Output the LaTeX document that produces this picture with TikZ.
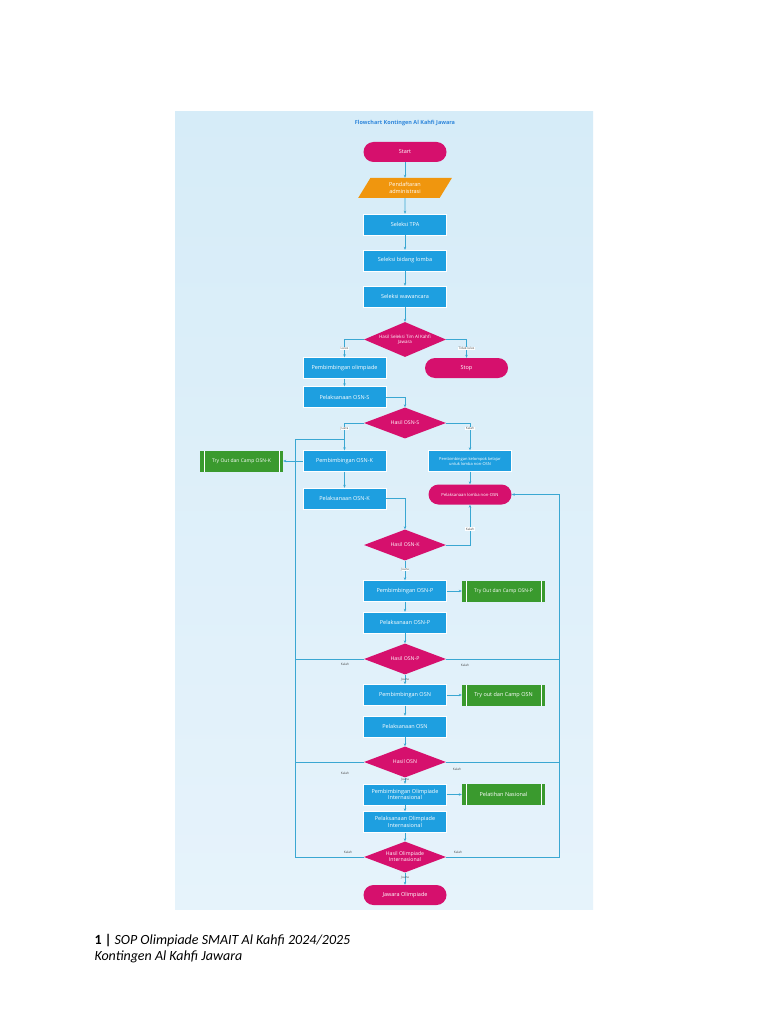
\documentclass[tikz,border=0pt]{standalone}
\usepackage{fontspec}
\setmainfont{Open Sans}
\newfontfamily\footfont{Carlito}
\usetikzlibrary{shapes.geometric,arrows.meta}
\definecolor{bx}{HTML}{1E9FE0}
\definecolor{mg}{HTML}{D6106D}
\definecolor{og}{HTML}{F0960E}
\definecolor{gn}{HTML}{3A9A2E}
\definecolor{ln}{HTML}{3AA7D2}
\definecolor{bgA}{HTML}{D6ECF8}
\definecolor{bgB}{HTML}{E6F3FB}
\tikzset{
 proc/.style={fill=bx,draw=white,line width=0.4pt,minimum width=83pt,minimum height=21pt,text=white,font=\fontsize{5.5}{6.5}\selectfont,align=center,inner sep=1pt},
 term/.style={fill=mg,rounded corners=10pt,minimum width=83pt,minimum height=20pt,text=white,font=\fontsize{5.5}{6.5}\selectfont,align=center},
 dec/.style={diamond,fill=mg,aspect=2.7,minimum width=82pt,minimum height=31pt,inner sep=0pt,text=white,font=\fontsize{5.2}{6}\selectfont,align=center},
 grn/.style={fill=gn,minimum width=83pt,minimum height=21pt,text=white,font=\fontsize{5}{6}\selectfont,align=center,
   path picture={\draw[white,line width=0.5pt] ([xshift=4pt]path picture bounding box.south west)--([xshift=4pt]path picture bounding box.north west)
   ([xshift=-4pt]path picture bounding box.south east)--([xshift=-4pt]path picture bounding box.north east);}},
 io/.style={trapezium,trapezium left angle=65,trapezium right angle=115,trapezium stretches=true,fill=og,minimum width=94pt,minimum height=20pt,text=white,font=\fontsize{5.5}{6.5}\selectfont,align=center,inner sep=1pt},
 con/.style={draw=ln,line width=0.6pt,-{Stealth[length=3pt,width=2.5pt]}},
 lin/.style={draw=ln,line width=0.6pt},
 lab/.style={fill=white,inner sep=0.5pt,font=\fontsize{3.2}{4}\selectfont,text=black!70},
 labn/.style={inner sep=0.5pt,font=\fontsize{3.2}{4}\selectfont,text=black!70}
}
\begin{document}
\begin{tikzpicture}[x=1pt,y=-1pt]
\useasboundingbox (0,0) rectangle (768,1024);
\fill[white] (0,0) rectangle (768,1024);
\shade[top color=bgA,bottom color=bgB] (175,112) rectangle (593,909);
\node[font=\bfseries\fontsize{5.5}{6}\selectfont,text=ln!80!blue] (title) at (405,123) {Flowchart Kontingen Al Kahfi Jawara};
\node[term] (start) at (405,152) {Start};
\node[io] (daftar) at (405,188) {Pendaftaran\\administrasi};
\node[proc] (tpa) at (405,224.5) {Seleksi TPA};
\node[proc] (bid) at (405,260.5) {Seleksi bidang lomba};
\node[proc] (waw) at (405,296.5) {Seleksi wawancara};
\node[dec,minimum height=35pt,font=\fontsize{4.5}{5.5}\selectfont] (d1) at (405,339.5) {Hasil Seleksi Tim Al Kahfi\\Jawara};
\node[proc] (pol) at (344.5,368) {Pembimbingan olimpiade};
\node[term] (stop) at (466.5,368) {Stop};
\node[proc] (ossn) at (344.5,397) {Pelaksanaan OSN-S};
\node[dec] (d2) at (405,423) {Hasil OSN-S};
\node[proc] (pk) at (344.5,461) {Pembimbingan OSN-K};
\node[grn] (gk) at (241.5,461) {Try Out dan Camp OSN-K};
\node[proc,font=\fontsize{4}{5}\selectfont] (kel) at (470,461) {Pembimbingan kelompok belajar\\untuk lomba non-OSN};
\node[term,font=\fontsize{4.2}{5}\selectfont] (non) at (470,494.5) {Pelaksanaan lomba non-OSN};
\node[proc] (lk) at (344.5,498.5) {Pelaksanaan OSN-K};
\node[dec] (d3) at (405,545) {Hasil OSN-K};
\node[proc] (pp) at (405,591) {Pembimbingan OSN-P};
\node[grn] (gp) at (503.5,591) {Try Out dan Camp OSN-P};
\node[proc] (lp) at (405,622.5) {Pelaksanaan OSN-P};
\node[dec] (d4) at (405,659) {Hasil OSN-P};
\node[proc] (pn) at (405,695) {Pembimbingan OSN};
\node[grn,font=\fontsize{5.5}{6.5}\selectfont] (gn) at (503.5,695) {Try out dan Camp OSN};
\node[proc] (ln) at (405,726.5) {Pelaksanaan OSN};
\node[dec] (d5) at (405,762) {Hasil OSN};
\node[proc] (pi) at (405,794.5) {Pembimbingan Olimpiade\\Internasional};
\node[grn,font=\fontsize{5.5}{6.5}\selectfont] (gi) at (503.5,794.5) {Pelatihan Nasional};
\node[proc] (li) at (405,822) {Pelaksanaan Olimpiade\\Internasional};
\node[dec] (d6) at (405,857) {Hasil Olimpiade\\Internasional};
\node[term] (jaw) at (405,895) {Jawara Olimpiade};
% connectors
\draw[con] (start)--(daftar);
\draw[con] (daftar)--(tpa);
\draw[con] (tpa)--(bid);
\draw[con] (bid)--(waw);
\draw[con] (waw)--(d1);
\draw[con] (d1.west) -| node[lab,pos=0.75]{Lulus} (pol.north);
\draw[con] (d1.east) -| node[lab,pos=0.75]{Tidak lulus} (stop.north);
\draw[con] (pol)--(ossn);
\draw[con] (ossn.east) -| (d2.north);
\draw[con] (d2.west) -| node[lab,pos=0.6]{Juara} (pk.north);
\draw[con] (d2.east) -| node[lab,pos=0.6]{Kalah} (kel.north);
\draw[con] (pk.west)--(gk.east);
\draw[con] (kel)--(non);
\draw[con] (pk)--(lk);
\draw[con] (lk.east) -| (d3.north);
\draw[con] (d3.east) -| node[lab,pos=0.7]{Kalah} (non.south);
\draw[con] (d3.south) -- node[lab,pos=0.45]{Juara} (pp.north);
\draw[con] (pp)--(gp);
\draw[con] (pp)--(lp);
\draw[con] (lp)--(d4);
\draw[con] (d4.south) -- node[labn,pos=0.5]{Juara} (pn.north);
\draw[con] (pn)--(gn);
\draw[con] (pn)--(ln);
\draw[con] (ln)--(d5);
\draw[con] (d5.south) -- node[labn,pos=0.3]{Juara} (pi.north);
\draw[con] (pi)--(gi);
\draw[con] (pi)--(li);
\draw[con] (li)--(d6);
\draw[con] (d6.south) -- node[labn,pos=0.4]{Juara} (jaw.north);
% loops
\coordinate (lt) at (295,439);
\coordinate (lj) at (344.5,439);
\coordinate (lb) at (295,857);
\coordinate (rt) at (559,494.5);
\coordinate (rb) at (559,857);
\draw[lin] (lj) -- (lt) -- (lb) -- (d6.west);
\draw[lin] (d4.west) -- (295,659);
\draw[lin] (d5.west) -- (295,762);
\draw[con] (d6.east) -- (rb) -- (rt) -- (non.east);
\draw[lin] (d4.east) -- (559,659);
\draw[lin] (d5.east) -- (559,762);
\node[labn] (k1) at (345,664) {Kalah};
\node[labn] (k2) at (465,665) {Kalah};
\node[labn] (k3) at (345,773) {Kalah};
\node[labn] (k4) at (457,769) {Kalah};
\node[labn] (k5) at (348,852) {Kalah};
\node[labn] (k6) at (458,852) {Kalah};
% footer
\node[anchor=west,font=\footfont\fontsize{14}{16}\selectfont,align=left] (foot) at (91,949) {\textbf{1 |} \textit{SOP Olimpiade SMAIT Al Kahfi 2024/2025}\\\textit{Kontingen Al Kahfi Jawara}};
\end{tikzpicture}
\end{document}
